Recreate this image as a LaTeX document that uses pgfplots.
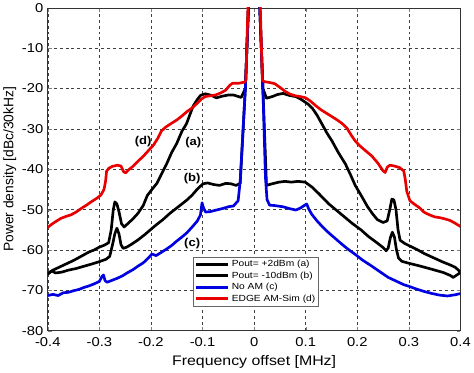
\documentclass[border=0pt]{standalone}
\usepackage{pgfplots}
\pgfplotsset{compat=1.18}
\usepackage{fontspec}
\setmainfont{Liberation Sans}[FakeStretch=1.15]
\newfontfamily\plainfont{Liberation Sans}
\definecolor{myred}{RGB}{232,0,0}
\definecolor{myblue}{RGB}{0,0,225}
\begin{document}
\begin{tikzpicture}
\begin{axis}[
  scale only axis,
  width=418pt, height=327pt,
  xmin=-0.4, xmax=0.4, ymin=-80, ymax=0,
  xtick={-0.4,-0.3,-0.2,-0.1,0,0.1,0.2,0.3,0.4},
  xticklabels={-0.4,-0.3,-0.2,-0.1,0,0.1,0.2,0.3,0.4},
  ytick={-80,-70,-60,-50,-40,-30,-20,-10,0},
  yticklabels={-80,-70,-60,-50,-40,-30,-20,-10,0},
  tick align=inside, major tick length=4pt,
  tick label style={font=\fontsize{13}{14}\selectfont},
  xticklabel style={yshift=-3pt},
  yticklabel style={xshift=-1pt},
  xlabel={\fontsize{14}{16}\selectfont Frequency offset [MHz]},
  ylabel={\plainfont\fontsize{14}{16}\selectfont Power density [dBc/30kHz]},
  xlabel style={yshift=-3pt},
  ylabel style={yshift=-1pt},
  grid=major,
  grid style={black!75, line width=0.5pt, dash pattern=on 3pt off 3pt},
  axis line style={black!80, line width=0.6pt},
  clip=true,
  every axis plot/.append style={line width=2.7pt, line join=round},
  legend style={at={(0.352,0.229)}, anchor=north west, font=\fontsize{9}{11}\selectfont,
    draw=black!60, line width=0.5pt, inner sep=1.5pt, row sep=-0.5pt},
  legend cell align=left,
  legend image code/.code={\draw[#1, line width=2.8pt] (0cm,0cm) -- (1.15cm,0cm);},
]
% (a)
\addplot[black] coordinates {
(-0.400,-65.8)(-0.390,-65.0)(-0.380,-64.4)(-0.370,-63.8)(-0.360,-63.2)(-0.350,-62.6)(-0.340,-61.9)(-0.330,-61.2)(-0.320,-60.5)(-0.310,-60.0)(-0.300,-59.3)(-0.290,-58.8)(-0.282,-58.2)(-0.277,-55.0)(-0.273,-50.0)(-0.270,-48.1)(-0.266,-48.6)(-0.262,-50.5)(-0.257,-53.5)(-0.252,-54.3)(-0.245,-53.5)(-0.235,-52.3)(-0.225,-50.9)(-0.215,-49.0)(-0.207,-46.5)(-0.198,-45.0)(-0.188,-43.4)(-0.180,-41.3)(-0.170,-38.8)(-0.160,-35.9)(-0.150,-33.6)(-0.140,-30.6)(-0.131,-28.7)(-0.124,-26.3)(-0.118,-24.3)(-0.110,-22.7)(-0.104,-21.7)(-0.095,-21.3)(-0.085,-21.6)(-0.073,-22.3)(-0.062,-21.9)(-0.050,-21.6)(-0.040,-21.6)(-0.030,-22.0)(-0.025,-22.2)(-0.017,-20)(-0.011,0)(0,30)(0.011,0)(0.017,-20)(0.024,-22.4)(0.035,-22.0)(0.045,-21.5)(0.056,-21.2)(0.068,-21.7)(0.081,-22.0)(0.090,-22.6)(0.097,-23.2)(0.105,-23.9)(0.113,-24.9)(0.122,-26.6)(0.132,-28.9)(0.141,-31.0)(0.151,-33.0)(0.163,-35.8)(0.177,-38.7)(0.187,-41.4)(0.196,-44.0)(0.208,-46.6)(0.220,-49.3)(0.230,-51.1)(0.239,-52.5)(0.250,-53.2)(0.258,-52.8)(0.263,-50.0)(0.267,-47.4)(0.271,-47.6)(0.275,-50.0)(0.279,-55.0)(0.283,-57.6)(0.292,-58.4)(0.303,-59.1)(0.316,-59.9)(0.330,-60.9)(0.342,-61.6)(0.354,-62.3)(0.366,-63.0)(0.378,-63.6)(0.390,-64.3)(0.396,-65.0)(0.400,-65.6)
};
\addlegendentry{Pout= +2dBm (a)}
% (b)
\addplot[black] coordinates {
(-0.400,-66.0)(-0.392,-65.2)(-0.385,-65.7)(-0.373,-65.5)(-0.360,-65.0)(-0.345,-64.6)(-0.329,-64.0)(-0.315,-63.5)(-0.300,-62.9)(-0.287,-62.3)(-0.280,-61.6)(-0.275,-59.0)(-0.270,-56.0)(-0.266,-54.6)(-0.262,-56.0)(-0.258,-58.7)(-0.254,-59.6)(-0.247,-59.3)(-0.239,-58.7)(-0.225,-57.5)(-0.212,-56.2)(-0.201,-55.0)(-0.190,-53.8)(-0.177,-52.5)(-0.163,-50.9)(-0.150,-49.6)(-0.140,-48.6)(-0.131,-47.7)(-0.120,-46.4)(-0.110,-44.9)(-0.099,-43.6)(-0.090,-43.4)(-0.078,-43.8)(-0.067,-44.0)(-0.055,-43.5)(-0.045,-43.6)(-0.035,-44.0)(-0.027,-43.5)(-0.017,-20)(-0.011,0)(0,30)(0.011,0)(0.017,-20)(0.024,-44.0)(0.035,-43.6)(0.048,-43.2)(0.060,-43.0)(0.072,-43.2)(0.085,-43.0)(0.099,-43.2)(0.112,-44.4)(0.125,-46.0)(0.135,-47.3)(0.144,-48.5)(0.160,-50.2)(0.175,-51.8)(0.190,-53.4)(0.207,-55.0)(0.222,-56.7)(0.239,-58.3)(0.250,-59.4)(0.256,-60.2)(0.260,-59.5)(0.264,-57.0)(0.268,-55.6)(0.272,-56.8)(0.276,-60.0)(0.280,-62.0)(0.286,-62.8)(0.300,-63.3)(0.322,-64.0)(0.345,-64.8)(0.367,-65.6)(0.380,-66.3)(0.386,-66.8)(0.393,-66.2)(0.400,-65.6)
};
\addlegendentry{Pout= -10dBm (b)}
% (c)
\addplot[myblue] coordinates {
(-0.400,-71.3)(-0.390,-71.0)(-0.380,-71.3)(-0.370,-70.6)(-0.360,-70.5)(-0.350,-70.1)(-0.340,-69.8)(-0.330,-69.3)(-0.320,-68.9)(-0.310,-68.4)(-0.300,-67.8)(-0.295,-66.6)(-0.292,-66.2)(-0.289,-67.6)(-0.285,-68.0)(-0.275,-67.5)(-0.265,-67.0)(-0.255,-66.4)(-0.245,-65.6)(-0.235,-64.9)(-0.225,-64.0)(-0.215,-63.2)(-0.205,-62.0)(-0.198,-61.0)(-0.190,-61.4)(-0.180,-60.6)(-0.170,-59.8)(-0.160,-58.9)(-0.150,-57.8)(-0.140,-56.8)(-0.130,-55.7)(-0.120,-54.3)(-0.110,-52.8)(-0.104,-51.3)(-0.101,-48.3)(-0.098,-49.6)(-0.094,-50.6)(-0.085,-50.5)(-0.073,-50.1)(-0.060,-49.7)(-0.050,-49.3)(-0.040,-49.1)(-0.031,-47.8)(-0.027,-43.0)(-0.017,-20)(-0.011,0)(0,30)(0.011,0)(0.017,-20)(0.022,-42)(0.025,-47.5)(0.030,-48.9)(0.040,-49.0)(0.056,-49.3)(0.070,-49.8)(0.081,-50.1)(0.090,-49.6)(0.097,-49.0)(0.102,-48.6)(0.106,-49.9)(0.112,-51.2)(0.122,-52.8)(0.132,-54.2)(0.145,-55.8)(0.155,-56.9)(0.164,-57.9)(0.175,-59.1)(0.185,-60.1)(0.196,-61.1)(0.210,-62.5)(0.228,-64.0)(0.245,-65.5)(0.260,-66.8)(0.275,-67.7)(0.290,-68.6)(0.300,-69.0)(0.315,-69.7)(0.330,-70.3)(0.345,-70.8)(0.360,-71.2)(0.375,-71.4)(0.390,-71.1)(0.400,-70.8)
};
\addlegendentry{No AM (c)}
% (d)
\addplot[myred] coordinates {
(-0.400,-54.4)(-0.392,-53.6)(-0.385,-53.0)(-0.375,-52.2)(-0.365,-51.7)(-0.355,-51.3)(-0.345,-50.6)(-0.335,-49.7)(-0.325,-48.9)(-0.315,-48.0)(-0.305,-47.2)(-0.297,-46.4)(-0.291,-45.0)(-0.288,-43.0)(-0.286,-40.5)(-0.282,-39.8)(-0.275,-39.3)(-0.265,-39.0)(-0.258,-39.2)(-0.253,-40.6)(-0.249,-40.9)(-0.244,-40.2)(-0.235,-39.3)(-0.225,-38.0)(-0.215,-36.8)(-0.205,-35.4)(-0.195,-34.0)(-0.187,-32.4)(-0.180,-30.6)(-0.172,-29.6)(-0.160,-28.6)(-0.150,-27.8)(-0.140,-26.8)(-0.130,-25.7)(-0.120,-24.8)(-0.110,-23.6)(-0.102,-22.6)(-0.095,-22.0)(-0.085,-21.8)(-0.075,-21.6)(-0.065,-21.1)(-0.055,-20.4)(-0.048,-19.3)(-0.042,-18.7)(-0.030,-18.7)(-0.018,-18.4)(-0.016,-18.0)(-0.012,0)(0,30)(0.012,0)(0.016,-18.0)(0.020,-18.3)(0.030,-18.5)(0.040,-18.8)(0.050,-19.7)(0.060,-20.7)(0.070,-21.4)(0.080,-21.8)(0.090,-22.0)(0.100,-22.3)(0.110,-23.2)(0.120,-24.3)(0.130,-25.3)(0.140,-26.1)(0.150,-26.9)(0.160,-27.7)(0.170,-28.6)(0.180,-29.8)(0.188,-31.5)(0.196,-33.0)(0.205,-34.2)(0.215,-35.3)(0.228,-36.7)(0.240,-38.5)(0.250,-40.4)(0.254,-40.8)(0.258,-39.5)(0.263,-39.0)(0.272,-39.2)(0.282,-39.6)(0.290,-40.4)(0.293,-42.5)(0.296,-45.5)(0.302,-47.8)(0.310,-48.6)(0.320,-49.5)(0.330,-50.7)(0.340,-51.3)(0.350,-51.8)(0.360,-52.0)(0.370,-52.3)(0.380,-52.7)(0.390,-53.4)(0.400,-54.2)
};
\addlegendentry{EDGE AM-Sim (d)}
\node[font=\bfseries\fontsize{11.5}{13}\selectfont] at (axis cs:-0.215,-33.2) {(d)};
\node[font=\bfseries\fontsize{11.5}{13}\selectfont] at (axis cs:-0.118,-33.5) {(a)};
\node[font=\bfseries\fontsize{11.5}{13}\selectfont] at (axis cs:-0.120,-42.2) {(b)};
\node[font=\bfseries\fontsize{11.5}{13}\selectfont] at (axis cs:-0.120,-58.5) {(c)};
\end{axis}
\end{tikzpicture}
\end{document}
